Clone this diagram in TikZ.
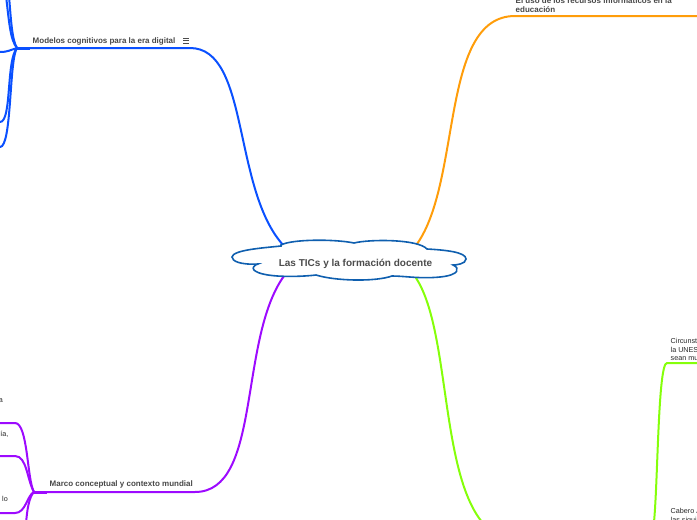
\documentclass[tikz,border=0pt]{standalone}
\usepackage{fontspec}
\setmainfont{Liberation Sans}
\tikzset{
  px/.style={x=1pt,y=-1pt},
  branch/.style={line width=2pt,line cap=round},
  hubbar/.style={line width=3pt},
  sub/.style={line width=2pt,line cap=round},
  lab/.style={font=\bfseries\fontsize{8}{9.2}\selectfont,text=black!72,inner sep=0,anchor=west,align=left},
  small/.style={font=\fontsize{7.2}{8.7}\selectfont,text=black!85,inner sep=0,anchor=north west,align=left},
  smallr/.style={font=\fontsize{7.2}{8.7}\selectfont,text=black!85,inner sep=0,anchor=east},
}
\definecolor{cblue}{HTML}{0A50FF}
\definecolor{corange}{HTML}{FF9D0A}
\definecolor{cpurple}{HTML}{9D0AFF}
\definecolor{cgreen}{HTML}{85FF0A}
\definecolor{ccloud}{HTML}{0F5FAF}
\begin{document}
\begin{tikzpicture}[px]
\useasboundingbox (0,0) rectangle (697,520);
\clip (0,0) rectangle (697,520);
\coordinate (blueEnd) at (30,48);
\coordinate (blueHub) at (17,48);
\coordinate (orangeEnd) at (697,16);
\coordinate (purpleEnd) at (47,492);
\coordinate (purpleHub) at (34,492);
\coordinate (greenEnd) at (482,522);
% main branches
\draw[branch,cblue] (blueEnd) -- (190,48) .. controls (250,48) and (232,190) .. (284,246);
\draw[branch,corange] (417,244) .. controls (462,180) and (440,16) .. (515,16) -- (orangeEnd);
\draw[branch,cpurple] (284,276) .. controls (238,340) and (262,492) .. (195,492) -- (purpleEnd);
\draw[branch,cgreen] (416,278) .. controls (450,330) and (440,470) .. (greenEnd);
\draw[hubbar,cblue] (blueHub) -- (blueEnd);
\draw[hubbar,cpurple] (purpleHub) -- (purpleEnd);
% blue children
\draw[sub,cblue] (blueHub) .. controls (10,40) and (9,20) .. (6,-4);
\draw[sub,cblue] (blueHub) .. controls (12,40) and (11,20) .. (9,-4);
\draw[sub,cblue] (blueHub) .. controls (10,50) and (8,52) .. (0,52);
\draw[sub,cblue] (blueHub) .. controls (6,60) and (12,122) .. (0,122);
\draw[sub,cblue] (blueHub) .. controls (9,60) and (12,147) .. (0,147);
% purple children
\draw[sub,cpurple] (purpleHub) .. controls (27,480) and (28,423) .. (15,423) -- (0,423);
\draw[sub,cpurple] (purpleHub) .. controls (27,480) and (27,456) .. (15,456) -- (0,456);
\draw[sub,cpurple] (purpleHub) .. controls (27,495) and (26,513) .. (15,513) -- (0,513);
\draw[sub,cpurple] (purpleHub) .. controls (29,497) and (27,510) .. (26,524);
% green children
\draw[sub,cgreen] (654,522) .. controls (658,480) and (658,363) .. (667,363) -- (697,363);
% cloud
\draw[line width=1.6pt,ccloud,fill=white]
  (281,245) .. controls (292,239) and (335,239) .. (354,243)
  .. controls (370,239) and (418,239) .. (427,249)
  .. controls (445,250) and (466,252) .. (466,259)
  .. controls (466,264) and (456,265) .. (453,265)
  .. controls (460,268) and (460,275) .. (440,277)
  .. controls (420,279) and (405,276) .. (392,276)
  .. controls (375,282) and (335,281) .. (316,275)
  .. controls (300,277) and (262,278) .. (254,270)
  .. controls (252,268) and (254,265) .. (258,264)
  .. controls (240,265) and (232,261) .. (232,257)
  .. controls (233,250) and (262,248) .. (281,246) -- cycle;
% labels
\node[font=\bfseries\fontsize{10}{12}\selectfont,text=black!70,inner sep=0] (root) at (355.5,264) {Las TICs y la formación docente};
\node[lab] (blueLab) at (32.5,41) {Modelos cognitivos para la era digital};
\draw[line width=.6pt,black!70] (183,38) -- (189,38) (183,40.7) -- (189,40.7) (183,43.4) -- (189,43.4);
\node[lab,anchor=south west] (orangeLab) at (515.5,13) {El uso de los recursos informáticos en la\\educación};
\node[lab] (purpleLab) at (49.5,484.5) {Marco conceptual y contexto mundial};
\node[small] (c1) at (670.5,338) {Circunsta\\la UNESC\\sean muc};
\node[small] (c2) at (670.5,508) {Cabero A\\las sigui};
\node[smallr] (p1) at (3,400.5) {a};
\node[smallr] (p2) at (8.5,434) {ía,};
\node[smallr] (p3) at (8,499) {lo};
\end{tikzpicture}
\end{document}
